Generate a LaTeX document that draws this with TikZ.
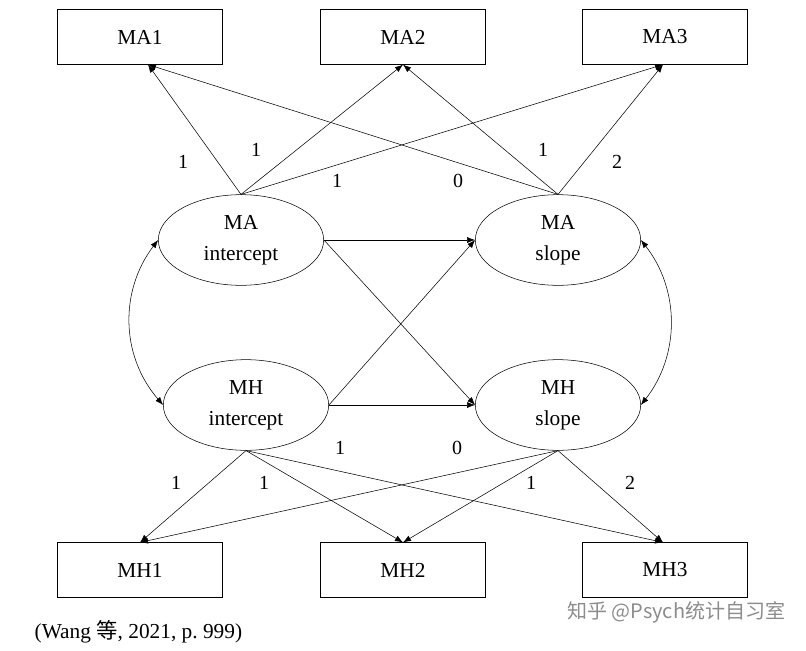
\documentclass[tikz,border=0pt]{standalone}
\usepackage{fontspec}
\setmainfont{Liberation Serif}
\newfontfamily\cjk{Noto Sans CJK SC}
\usetikzlibrary{arrows,arrows.meta}
\usetikzlibrary{shapes,shapes.geometric}
\tikzstyle{block} = [draw, rectangle, minimum height=41pt, minimum width=124pt, inner sep=0pt]
\tikzstyle{latent} = [draw, ellipse, minimum height=68pt, minimum width=124pt, inner sep=0pt, align=center, font=\fontsize{16}{23}\selectfont]
\tikzstyle{load} = [font=\fontsize{15}{17}\selectfont]
\begin{document}
\begin{tikzpicture}[x=0.75pt, y=-0.75pt, >={Latex[length=6pt,width=4.5pt]}, font=\fontsize{16}{18}\selectfont]
	\useasboundingbox (0,0) rectangle (806,650);

	\node [block] (ma1) at (140,37) {MA1};
	\node [block] (ma2) at (403,37) {MA2};
	\node [block] (ma3) at (665,37) {MA3};
	\node [block] (mh1) at (140,570) {MH1};
	\node [block] (mh2) at (403,570) {MH2};
	\node [block] (mh3) at (665,570) {MH3};

	\node [latent] (maint) at (241,240) {MA\\intercept};
	\node [latent] (maslope) at (558,240) {MA\\slope};
	\node [latent] (mhint) at (246,405) {MH\\intercept};
	\node [latent] (mhslope) at (558,405) {MH\\slope};

	% loadings
	\foreach \f in {maint,maslope}
		\foreach \m/\x in {ma1/148,ma2/403,ma3/663}
			\draw [->] (\f.north) -- (\m.south -| \x,0);
	\foreach \f in {mhint,mhslope}
		\foreach \m/\x in {mh1/140,mh2/403,mh3/663}
			\draw [->] (\f.south) -- (\m.north -| \x,0);

	\node [load] at (183,162) {1};
	\node [load] at (256,150) {1};
	\node [load] at (337,181) {1};
	\node [load] at (458,181) {0};
	\node [load] at (543,150) {1};
	\node [load] at (617,162) {2};
	\node [load] at (176,483) {1};
	\node [load] at (264,483) {1};
	\node [load] at (340,448) {1};
	\node [load] at (457,448) {0};
	\node [load] at (531,483) {1};
	\node [load] at (630,483) {2};

	% regressions
	\draw [->] (maint.east) -- (maslope.west);
	\draw [->] (mhint.east) -- (mhslope.west);
	\draw [->] (maint.east) -- (mhslope.west);
	\draw [->] (mhint.east) -- (maslope.west);

	% covariances
	\draw [<->] (maint.west) .. controls (120,290) and (120,355) .. (mhint.west);
	\draw [<->] (maslope.east) .. controls (680,290) and (680,355) .. (mhslope.east);

	\node [anchor=west] (cite) at (30,632) {(Wang {\cjk 等}, 2021, p.\ 999)};
	\node [anchor=east, text=black!45, font=\cjk\fontsize{15}{17}\selectfont] (mark) at (790,612) {知乎 @Psych统计自习室};
\end{tikzpicture}
\end{document}
